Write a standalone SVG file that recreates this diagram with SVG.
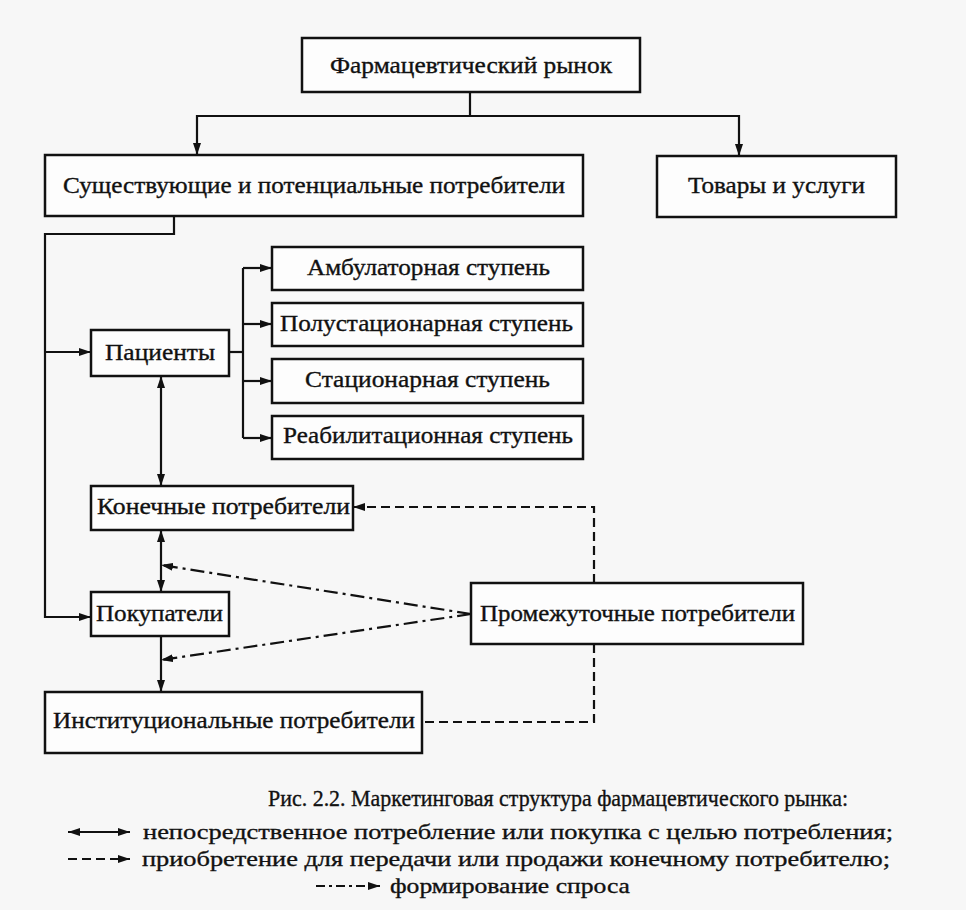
<svg xmlns="http://www.w3.org/2000/svg" width="966" height="910" viewBox="0 0 966 910" font-family="'Liberation Serif', 'Times New Roman', serif">
<defs>
<style>
.box{fill:#fdfdfd;stroke:#111;stroke-width:2.5}
text{font-family:'Liberation Serif','Times New Roman',serif;fill:#111;stroke:#111;stroke-width:0.35}
.t{font-size:23px}
.cap{font-size:24px}
.lg{font-size:22px}
.c{fill:none;stroke:#111;stroke-width:2.2}
.dash{stroke-dasharray:9 5}
.dd{stroke-dasharray:14 5 3 5}
</style>
<marker id="ah" viewBox="0 0 12 8" refX="12" refY="4" markerWidth="12" markerHeight="8" markerUnits="userSpaceOnUse" orient="auto-start-reverse">
<path d="M0,0 L12,4 L0,8 z" fill="#111"/>
</marker>
</defs>
<rect width="966" height="910" fill="#f7f7f7"/>

<g id="connectors">
<path class="c" d="M470,92 V116 H197 V155" marker-end="url(#ah)"/>
<path class="c" d="M470,116 H739 V156" marker-end="url(#ah)"/>
<path class="c" d="M174,216 V234 H45 V617 H91" marker-end="url(#ah)"/>
<path class="c" d="M45,352 H91" marker-end="url(#ah)"/>
<path class="c" d="M229,352 H243"/>
<path class="c" d="M243,268 V438"/>
<path class="c" d="M243,268 H272" marker-end="url(#ah)"/>
<path class="c" d="M243,324 H272" marker-end="url(#ah)"/>
<path class="c" d="M243,381 H272" marker-end="url(#ah)"/>
<path class="c" d="M243,438 H272" marker-end="url(#ah)"/>
<path class="c" d="M161,376 V486" marker-start="url(#ah)" marker-end="url(#ah)"/>
<path class="c" d="M161,530 V592" marker-start="url(#ah)" marker-end="url(#ah)"/>
<path class="c" d="M161,636 V692" marker-end="url(#ah)"/>
<path class="c dd" d="M471,614 L161,565" marker-end="url(#ah)"/>
<path class="c dd" d="M471,614 L161,660" marker-end="url(#ah)"/>
<path class="c dash" d="M594,583 V507 H353" marker-end="url(#ah)"/>
<path class="c dash" d="M594,644 V722 H422"/>
</g>

<g id="n-market"><rect class="box" x="302" y="38" width="338" height="54"/><text class="t" x="330" y="73" textLength="282" lengthAdjust="spacingAndGlyphs">Фармацевтический рынок</text></g>
<g id="n-consumers"><rect class="box" x="45" y="155" width="538" height="61"/><text class="t" x="63" y="193" textLength="502" lengthAdjust="spacingAndGlyphs">Существующие и потенциальные потребители</text></g>
<g id="n-goods"><rect class="box" x="657" y="156" width="239" height="61"/><text class="t" x="688" y="193" textLength="177" lengthAdjust="spacingAndGlyphs">Товары и услуги</text></g>
<g id="n-patients"><rect class="box" x="91" y="330" width="138" height="46"/><text class="t" x="105" y="360" textLength="110" lengthAdjust="spacingAndGlyphs">Пациенты</text></g>
<g id="n-amb"><rect class="box" x="272" y="247" width="311" height="43"/><text class="t" x="307" y="275" textLength="243" lengthAdjust="spacingAndGlyphs">Амбулаторная ступень</text></g>
<g id="n-semi"><rect class="box" x="272" y="303" width="311" height="43"/><text class="t" x="280" y="331" textLength="293" lengthAdjust="spacingAndGlyphs">Полустационарная ступень</text></g>
<g id="n-stat"><rect class="box" x="272" y="359" width="311" height="44"/><text class="t" x="305" y="387" textLength="245" lengthAdjust="spacingAndGlyphs">Стационарная ступень</text></g>
<g id="n-rehab"><rect class="box" x="272" y="416" width="311" height="43"/><text class="t" x="283" y="443" textLength="290" lengthAdjust="spacingAndGlyphs">Реабилитационная ступень</text></g>
<g id="n-final"><rect class="box" x="91" y="486" width="262" height="44"/><text class="t" x="97" y="514" textLength="253" lengthAdjust="spacingAndGlyphs">Конечные потребители</text></g>
<g id="n-buyers"><rect class="box" x="91" y="592" width="138" height="44"/><text class="t" x="96" y="621" textLength="127" lengthAdjust="spacingAndGlyphs">Покупатели</text></g>
<g id="n-inst"><rect class="box" x="45" y="692" width="377" height="61"/><text class="t" x="53" y="728" textLength="362" lengthAdjust="spacingAndGlyphs">Институциональные потребители</text></g>
<g id="n-inter"><rect class="box" x="471" y="583" width="332" height="61"/><text class="t" x="480" y="621" textLength="315" lengthAdjust="spacingAndGlyphs">Промежуточные потребители</text></g>

<g id="legend">
<text class="cap" x="268" y="806" textLength="580" lengthAdjust="spacingAndGlyphs">Рис. 2.2. Маркетинговая структура фармацевтического рынка:</text>
<path class="c" d="M68,832 H130" marker-start="url(#ah)" marker-end="url(#ah)"/>
<text class="lg" x="143" y="839" textLength="750" lengthAdjust="spacingAndGlyphs">непосредственное потребление или покупка с целью потребления;</text>
<path class="c dash" d="M68,859 H130" marker-end="url(#ah)"/>
<text class="lg" x="142" y="866" textLength="748" lengthAdjust="spacingAndGlyphs">приобретение для передачи или продажи конечному потребителю;</text>
<path class="c" style="stroke-dasharray:9 4 3 4" d="M316,886 H380" marker-end="url(#ah)"/>
<text class="lg" x="390" y="893" textLength="240" lengthAdjust="spacingAndGlyphs">формирование спроса</text>
</g>
</svg>
